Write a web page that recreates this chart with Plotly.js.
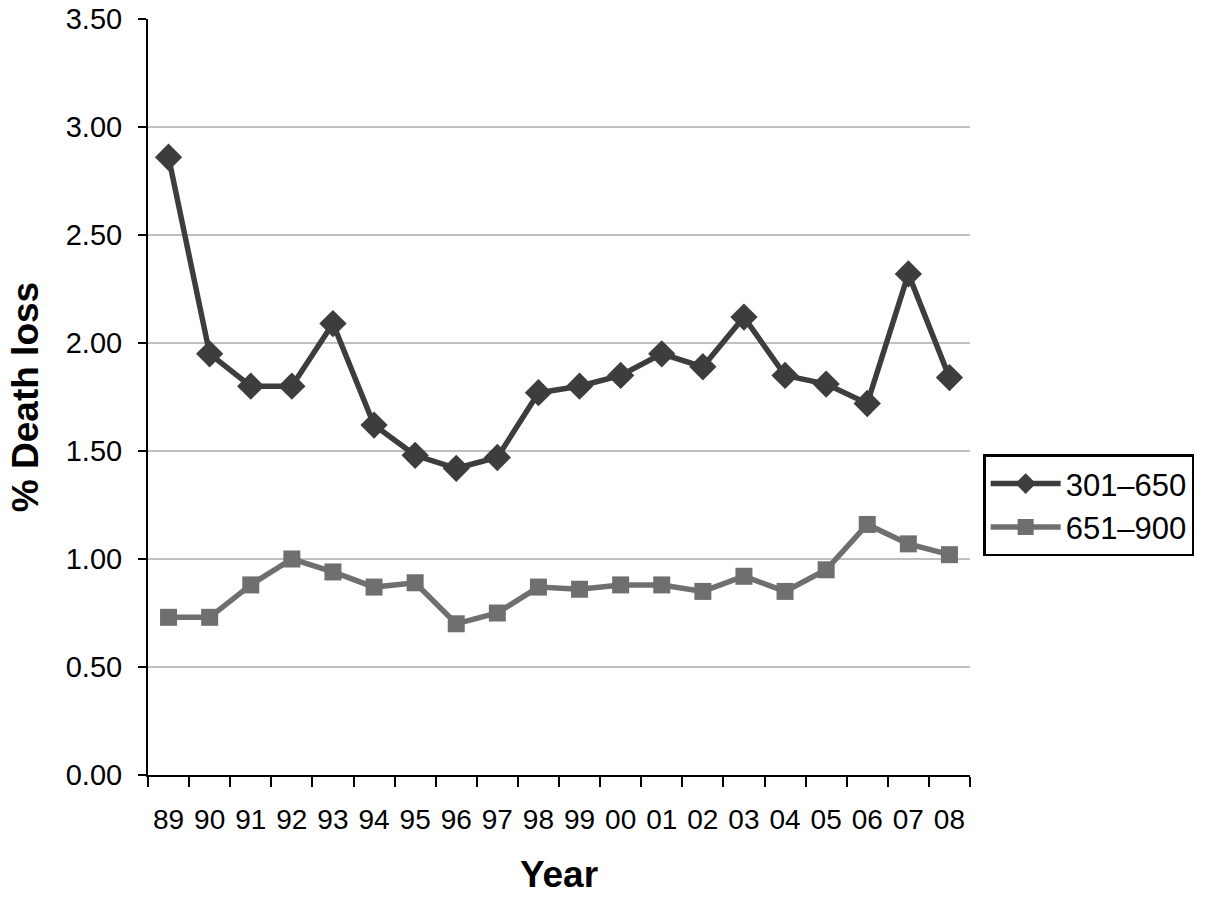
<!DOCTYPE html>
<html>
<head>
<meta charset="utf-8">
<script src="https://cdn.plot.ly/plotly-3.0.1.min.js"></script>
<style>html,body{margin:0;padding:0;background:#fff;}#chart{width:1206px;height:897px;}</style>
</head>
<body>
<div id="chart"></div>
<script>
const years = ["89","90","91","92","93","94","95","96","97","98","99","00","01","02","03","04","05","06","07","08"];
const series1Name = "301\u2013650";
const series1 = [2.86,1.95,1.80,1.80,2.09,1.62,1.48,1.42,1.47,1.77,1.80,1.85,1.95,1.89,2.12,1.85,1.81,1.72,2.32,1.84];
const series2Name = "651\u2013900";
const series2 = [0.73,0.73,0.88,1.00,0.94,0.87,0.89,0.70,0.75,0.87,0.86,0.88,0.88,0.85,0.92,0.85,0.95,1.16,1.07,1.02];
const yTicks = [0,0.5,1,1.5,2,2.5,3,3.5];

const FONT = "Liberation Sans, Arial, sans-serif";

const traces = [
  {x: years, y: series1, name: series1Name, type: "scatter", mode: "lines+markers",
   line: {color: "#3d3d3d", width: 5.5},
   marker: {symbol: "diamond", size: 21, color: "#3d3d3d"}},
  {x: years, y: series2, name: series2Name, type: "scatter", mode: "lines+markers",
   line: {color: "#6f6f6f", width: 5.5},
   marker: {symbol: "square", size: 17, color: "#6f6f6f"}}
];

const layout = {
  width: 1206, height: 897,
  paper_bgcolor: "#fff", plot_bgcolor: "#fff",
  margin: {l: 148, r: 236, t: 19, b: 122},
  font: {family: FONT, color: "#000", size: 29},
  showlegend: true,
  legend: {
    x: 1.016, y: 0.424, xanchor: "left", yanchor: "top",
    bordercolor: "#000", borderwidth: 2.5, bgcolor: "#fff",
    font: {family: FONT, size: 31, color: "#000"},
    itemwidth: 70, tracegroupgap: 0
  },
  xaxis: {
    type: "category",
    range: [-0.5, 19.5],
    tickson: "boundaries",
    tickangle: 0,
    ticks: "outside", ticklen: 10, tickwidth: 2, tickcolor: "#000",
    showline: true, linecolor: "#000", linewidth: 2,
    showgrid: false, zeroline: false,
    tickfont: {family: FONT, size: 28, color: "#000"},
    ticklabelstandoff: 18,
    title: {text: "<b>Year</b>", font: {family: FONT, size: 37, color: "#000"}, standoff: 28}
  },
  yaxis: {
    range: [0, 3.5],
    tickvals: yTicks,
    tickformat: ".2f",
    ticks: "outside", ticklen: 8, tickwidth: 2, tickcolor: "#000",
    showline: true, linecolor: "#000", linewidth: 2,
    showgrid: true, gridcolor: "#c0c0c0", gridwidth: 2,
    zeroline: false,
    tickfont: {family: FONT, size: 29, color: "#000"},
    ticklabelstandoff: 10,
    title: {text: "<b>% Death loss</b>", font: {family: FONT, size: 37, color: "#000"}, standoff: 16}
  }
};

Plotly.newPlot("chart", traces, layout, {displayModeBar: false, staticPlot: true});
</script>
</body>
</html>
